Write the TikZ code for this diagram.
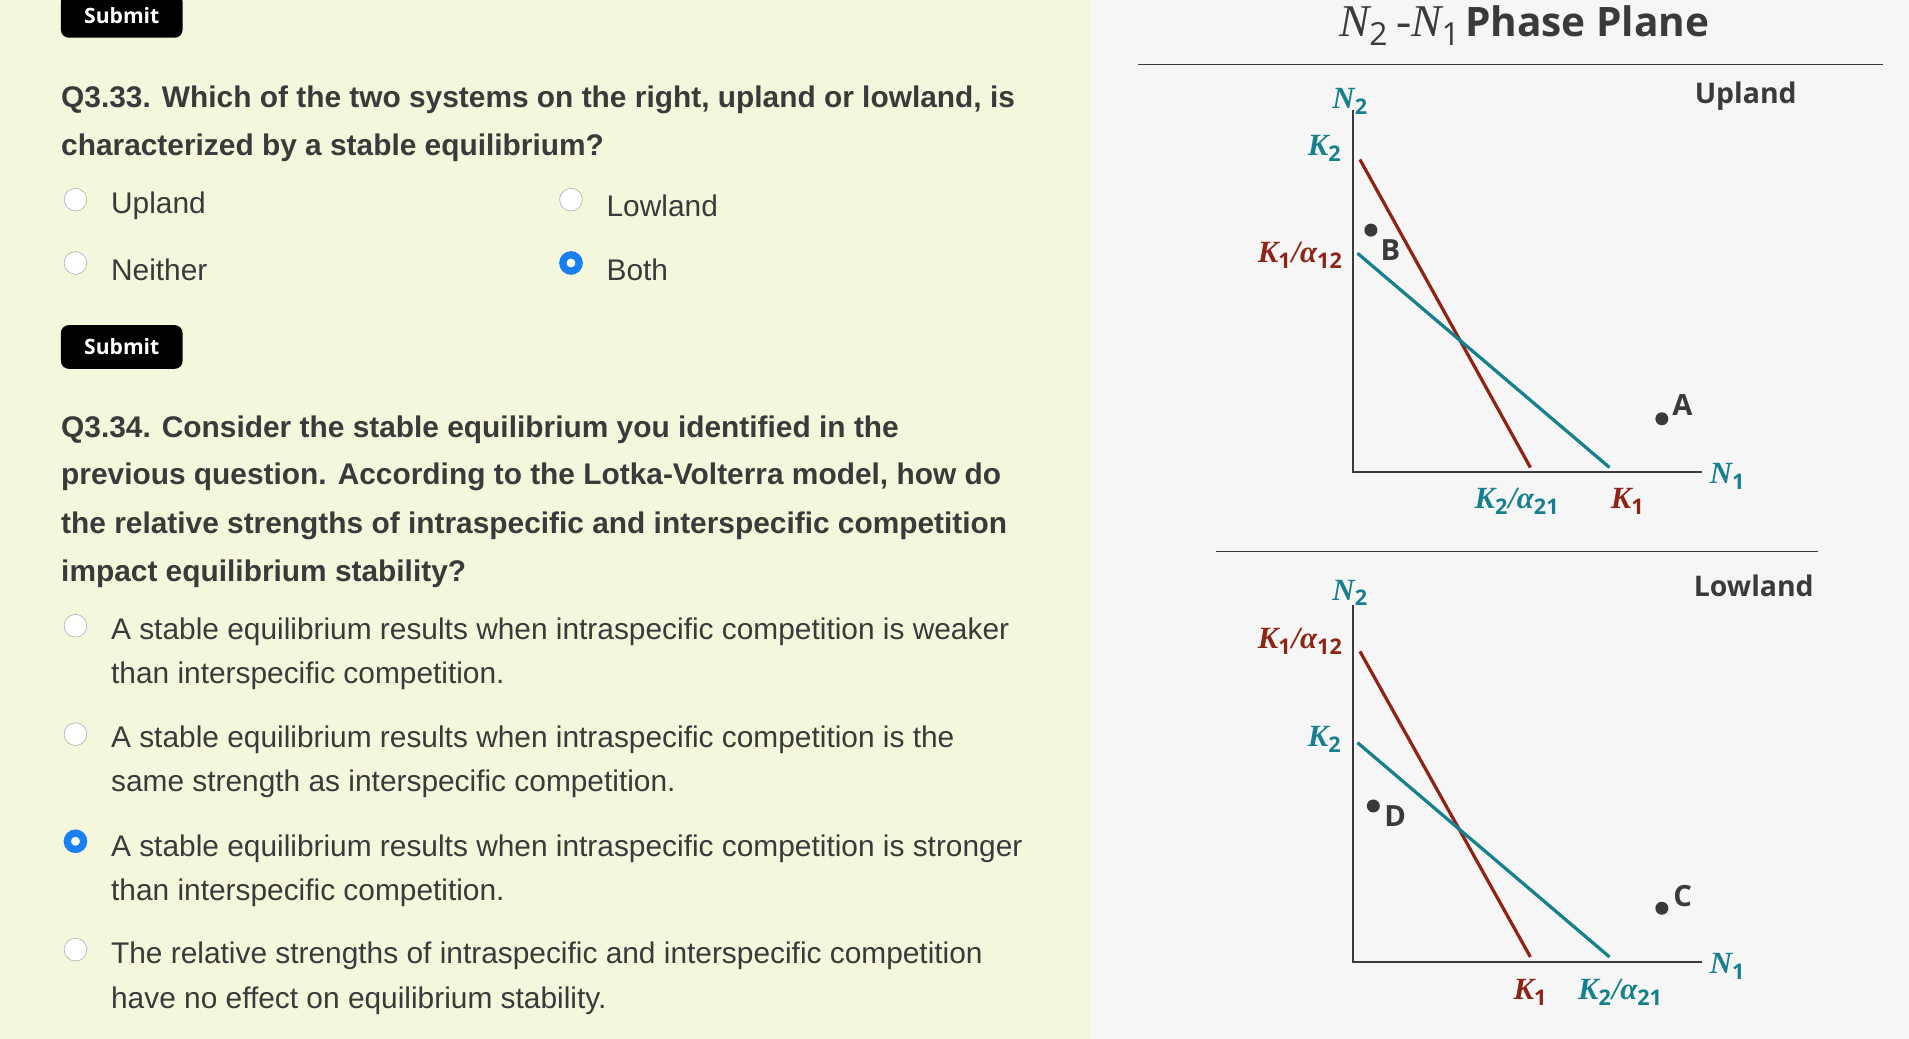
\documentclass[tikz,border=0pt]{standalone}
\usepackage{fontspec}
\setmainfont{Liberation Sans}
\newfontfamily\lbl{Liberation Serif}
\newfontfamily\ttl{Open Sans}
\definecolor{bgl}{HTML}{F5F7DD}
\definecolor{bgr}{HTML}{F6F6F6}
\definecolor{rd}{HTML}{8E2416}
\definecolor{tl}{HTML}{17808F}
\definecolor{txt}{HTML}{3A3A3A}
\definecolor{rb}{HTML}{1A7FF0}
\newcommand{\mysub}[1]{\textsubscript{\ttl\upshape\bfseries #1}}
\tikzset{
 q/.style={anchor=west,text=txt,font=\fontsize{18.4}{21}\selectfont\bfseries,inner sep=0},
 opt/.style={anchor=west,text=txt,font=\fontsize{18.4}{21}\selectfont,inner sep=0},
 radio/.style={circle,draw=gray!60,fill=white,minimum size=14pt,inner sep=0},
 radioon/.style={circle,draw=rb,line width=4.5pt,fill=white,minimum size=10pt,inner sep=0},
 btn/.style={rounded corners=5pt,fill=black,text=white,font=\ttl\fontsize{13}{15}\selectfont\bfseries,minimum width=75pt,minimum height=27pt,inner sep=0},
 ax/.style={line width=1.2pt,draw=txt},
 rl/.style={line width=2pt,draw=rd},
 tlin/.style={line width=2pt,draw=tl},
 lr/.style={text=rd,font=\lbl\fontsize{19}{21}\selectfont\bfseries\itshape,inner sep=0},
 lt/.style={text=tl,font=\lbl\fontsize{19}{21}\selectfont\bfseries\itshape,inner sep=0},
 dotp/.style={circle,fill=txt,minimum size=8pt,inner sep=0},
 ptl/.style={text=txt,font=\ttl\fontsize{18}{20}\selectfont\bfseries,inner sep=0},
 reg/.style={text=txt,font=\ttl\fontsize{17.5}{20}\selectfont\bfseries,inner sep=0},
}
\begin{document}
\begin{tikzpicture}[x=0.75pt,y=-0.75pt]
\useasboundingbox (0,0) rectangle (1568,853);
\fill[bgl] (0,0) rectangle (895,853);
\fill[bgr] (895,0) rectangle (1568,853);
% left
\node[btn] (s1) at (100,13) {Submit};
\node[q] (q1a) at (50,82) {Q3.33. Which of the two systems on the right, upland or lowland, is};
\node[q] (q1b) at (50,121) {characterized by a stable equilibrium?};
\node[radio] (r1) at (62,164) {}; \node[opt] (o1) at (91,169) {Upland};
\node[radio] (r2) at (469,164) {}; \node[opt] (o2) at (498,169) {Lowland};
\node[radio] (r3) at (62,216) {}; \node[opt] (o3) at (91,222) {Neither};
\node[radioon] (r4) at (469,216) {}; \node[opt] (o4) at (498,222) {Both};
\node[btn] (s2) at (100,285) {Submit};
\node[q] (q2a) at (50,353) {Q3.34. Consider the stable equilibrium you identified in the};
\node[q] (q2b) at (50,392) {previous question. According to the Lotka-Volterra model, how do};
\node[q] (q2c) at (50,432) {the relative strengths of intraspecific and interspecific competition};
\node[q] (q2d) at (50,471) {impact equilibrium stability?};
\node[radio] (a1) at (62,514) {};
\node[opt] (a1a) at (91,519) {A stable equilibrium results when intraspecific competition is weaker};
\node[opt] (a1b) at (91,555) {than interspecific competition.};
\node[radio] (a2) at (62,603) {};
\node[opt] (a2a) at (91,608) {A stable equilibrium results when intraspecific competition is the};
\node[opt] (a2b) at (91,644) {same strength as interspecific competition.};
\node[radioon] (a3) at (62,691) {};
\node[opt] (a3a) at (91,697) {A stable equilibrium results when intraspecific competition is stronger};
\node[opt] (a3b) at (91,733) {than interspecific competition.};
\node[radio] (a4) at (62,780) {};
\node[opt] (a4a) at (91,785) {The relative strengths of intraspecific and interspecific competition};
\node[opt] (a4b) at (91,822) {have no effect on equilibrium stability.};
% right title
\node[text=txt,inner sep=0] (title) at (1252,21) {{\lbl\fontsize{28}{30}\selectfont\itshape N\textsubscript{\ttl\upshape 2}\,-N\textsubscript{\ttl\upshape 1}}\ {\ttl\fontsize{25}{28}\selectfont\bfseries Phase Plane}};
\draw[line width=1pt,txt] (935,53) -- (1547,53);
% upland
\node[reg,anchor=east] (up) at (1476,79) {Upland};
\draw[ax] (1111,90) -- (1111,388) -- (1398,388);
\draw[rl] (1117,131) -- (1257,384);
\draw[tlin] (1115,208) -- (1322,384);
\node[lt] at (1109,83) {N\mysub{2}};
\node[lt] at (1088,122) {K\mysub{2}};
\node[lr] at (1068,210) {K\mysub{1}/α\mysub{12}};
\node[lt] at (1246,412) {K\mysub{2}/α\mysub{21}};
\node[lr] at (1337,412) {K\mysub{1}};
\node[lt] at (1419,391) {N\mysub{1}};
\node[dotp] (B) at (1126,189) {}; \node[ptl] at (1142,205) {B};
\node[dotp] (A) at (1365,344) {}; \node[ptl] at (1382,333) {A};
% lowland
\draw[line width=1pt,txt] (999,453) -- (1493,453);
\node[reg,anchor=east] (lo) at (1490,481) {Lowland};
\draw[ax] (1111,497) -- (1111,790) -- (1398,790);
\draw[rl] (1117,535) -- (1257,786);
\draw[tlin] (1115,610) -- (1322,786);
\node[lt] at (1109,487) {N\mysub{2}};
\node[lr] at (1068,527) {K\mysub{1}/α\mysub{12}};
\node[lt] at (1088,607) {K\mysub{2}};
\node[lr] at (1257,815) {K\mysub{1}};
\node[lt] at (1331,815) {K\mysub{2}/α\mysub{21}};
\node[lt] at (1419,794) {N\mysub{1}};
\node[dotp] (D) at (1128,662) {}; \node[ptl] at (1146,670) {D};
\node[dotp] (C) at (1365,746) {}; \node[ptl] at (1382,736) {C};
\end{tikzpicture}
\end{document}
